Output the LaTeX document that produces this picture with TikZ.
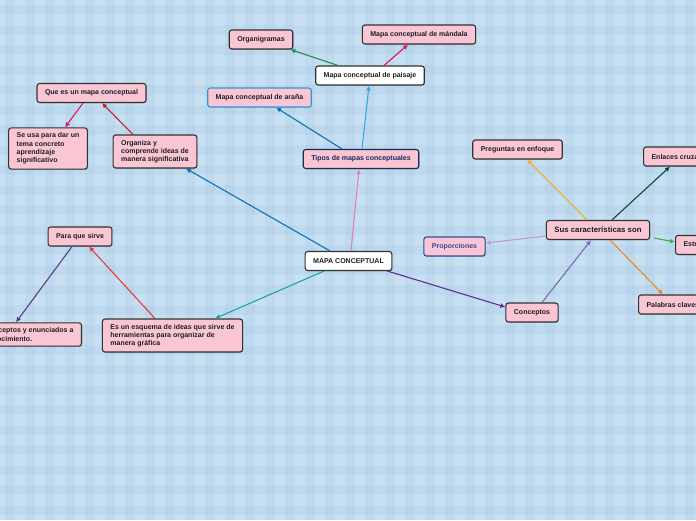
\documentclass[tikz,border=0pt]{standalone}
\usepackage{fontspec}
\setmainfont{Liberation Sans}
\usetikzlibrary{positioning,shadows,arrows.meta}

\definecolor{bgbase}{RGB}{199,225,243}
\definecolor{bgstripe}{RGB}{150,182,212}
\definecolor{boxpink}{RGB}{250,198,211}
\definecolor{boxline}{RGB}{50,50,52}
\definecolor{boxtext}{RGB}{30,30,30}
\definecolor{navy}{RGB}{26,40,90}
\definecolor{propblue}{RGB}{45,75,160}
\definecolor{skyline}{RGB}{50,150,220}

\begin{document}
\begin{tikzpicture}[x=1pt, y=-1pt, on grid,
  box/.style={draw=boxline, fill=boxpink, rounded corners=2.5pt, line width=1.1pt,
    minimum height=19pt, inner xsep=8pt, inner ysep=5pt, text=boxtext,
    font=\bfseries\fontsize{7}{8.2}\selectfont,
    drop shadow={shadow xshift=0.8pt, shadow yshift=-0.8pt, opacity=0.35}},
  whitebox/.style={box, fill=white},
  note/.style={box, align=left},
  link/.style={-{Latex[length=5pt,width=5pt]}, line width=1.1pt}]

\useasboundingbox (0,0) rectangle (696,520);
\clip (0,0) rectangle (696,520);

% background grid
\fill[bgbase] (0,0) rectangle (696,520);
\foreach \k in {0,20,...,680} \fill[bgstripe, opacity=0.15] (\k+5,0) rectangle (\k+15,520);
\foreach \k in {0,20,...,500} \fill[bgstripe, opacity=0.15] (0,\k+5) rectangle (696,\k+15);

\node[whitebox] (mapa) at (348.5,261) {MAPA CONCEPTUAL};

\node[box, draw=navy, text=navy, above right=102pt and 12.5pt of mapa] (tipos) {Tipos de mapas conceptuales};
\node[note, above left=109.5pt and 193.5pt of mapa] (organiza) {Organiza y\\comprende ideas de\\manera significativa};
\node[note, below left=74.5pt and 176pt of mapa] (esquema) {Es un esquema de ideas que sirve de\\herramientas para organizar de\\manera gr\'afica};
\node[box, below right=51.5pt and 183.5pt of mapa] (conceptos) {Conceptos};

% tipos de mapas
\node[whitebox, above right=83.5pt and 9pt of tipos] (paisaje) {Mapa conceptual de paisaje};
\node[box, draw=skyline, above left=61.5pt and 101.5pt of tipos] (arana) {Mapa conceptual de ara\~na};
\node[box, above left=36pt and 109pt of paisaje] (organigramas) {Organigramas};
\node[box, above right=41pt and 49pt of paisaje] (mandala) {Mapa conceptual de m\'andala};

% que es
\node[box, above left=58.5pt and 63.5pt of organiza] (quees) {Que es un mapa conceptual};
\node[note, below left=55.5pt and 43.5pt of quees] (seusa) {Se usa para dar un\\tema concreto\\aprendizaje\\significativo};

% para que sirve
\node[box, above left=99pt and 92.5pt of esquema] (paraque) {Para que sirve};
\node[note, anchor=east] (enunciados) at ([xshift=2pt, yshift=-98pt]paraque.center) {Conceptos y enunciados a\\conocimiento.};

% caracteristicas
\node[box, font=\bfseries\fontsize{7.8}{9}\selectfont, above right=82.5pt and 66pt of conceptos] (sus) {Sus caracter\'isticas son};
\node[box, above left=80.5pt and 80.5pt of sus] (preguntas) {Preguntas en enfoque};
\node[box, anchor=west] (enlaces) at ([xshift=45pt, yshift=73.5pt]sus.center) {Enlaces cruzados};
\node[box, draw=propblue, text=propblue, below left=16.5pt and 143.5pt of sus] (proporciones) {Proporciones};
\node[box, anchor=west] (estructura) at ([xshift=77pt, yshift=-15pt]sus.center) {Estructura jer\'arquica};
\node[box, anchor=west] (palabras) at ([xshift=40pt, yshift=-74.5pt]sus.center) {Palabras claves};

\draw[link, color={rgb,255:red,10;green,114;blue,181}] ([xshift=-18.5pt]mapa.north) -- ([xshift=31pt]organiza.south);
\draw[link, color={rgb,255:red,232;green,127;blue,168}] ([xshift=2.5pt]mapa.north) -- ([xshift=-2pt]tipos.south);
\draw[link, color={rgb,255:red,26;green,165;blue,165}] ([xshift=-24.5pt]mapa.south) -- ([xshift=42.5pt]esquema.north);
\draw[link, color={rgb,255:red,94;green,45;blue,145}] ([xshift=-5pt]mapa.south east) -- ([yshift=5.5pt]conceptos.west);

\draw[link, color={rgb,255:red,10;green,114;blue,181}] ([xshift=-19pt]tipos.north) -- ([xshift=16.5pt]arana.south);
\draw[link, color={rgb,255:red,56;green,168;blue,224}] ([xshift=1pt]tipos.north) -- ([xshift=-1pt]paisaje.south);
\draw[link, color={rgb,255:red,30;green,144;blue,80}] ([xshift=-32pt]paisaje.north) -- ([xshift=-3pt]organigramas.south east);
\draw[link, color={rgb,255:red,216;green,23;blue,90}] ([xshift=14pt]paisaje.north) -- ([xshift=-11pt]mandala.south);

\draw[link, color={rgb,255:red,200;green,32;blue,47}] ([xshift=-22pt]organiza.north) -- ([xshift=10.5pt]quees.south);
\draw[link, color={rgb,255:red,232;green,23;blue,90}] ([xshift=-8.5pt]quees.south) -- ([xshift=17pt]seusa.north);

\draw[link, color={rgb,255:red,238;green,58;blue,58}] ([xshift=-17.5pt]esquema.north) -- ([xshift=9pt]paraque.south);
\draw[link, color={rgb,255:red,90;green,58;blue,138}] ([xshift=-8pt]paraque.south) -- ([xshift=-66pt]enunciados.north east);

\draw[link, color={rgb,255:red,128;green,102;blue,184}] ([xshift=10pt]conceptos.north) -- ([xshift=-7pt]sus.south);
\draw[link, color={rgb,255:red,192;green,154;blue,208}] ([yshift=-6pt]sus.west) -- ([yshift=3.5pt]proporciones.east);
\draw[link, color={rgb,255:red,240;green,176;blue,32}] ([xshift=-11pt]sus.north) -- ([xshift=9.5pt]preguntas.south);
\draw[link, color={rgb,255:red,10;green,74;blue,58}] ([xshift=14pt]sus.north) -- ([xshift=27pt]enlaces.south west);
\draw[link, color={rgb,255:red,68;green,170;blue,68}] ([xshift=4pt,yshift=2pt]sus.south east) -- ([yshift=3pt]estructura.west);
\draw[link, color={rgb,255:red,240;green,138;blue,32}] ([xshift=12pt]sus.south) -- ([xshift=25pt]palabras.north west);
\end{tikzpicture}
\end{document}
